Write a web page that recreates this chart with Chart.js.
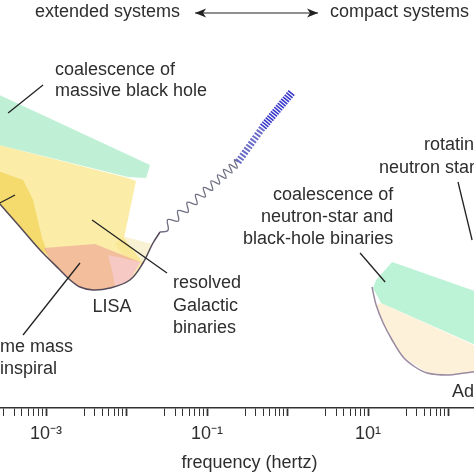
<!DOCTYPE html>
<html>
<head>
<meta charset="utf-8">
<script src="https://cdn.jsdelivr.net/npm/chart.js@4.4.1/dist/chart.umd.min.js"></script>
<style>
  html, body { margin: 0; padding: 0; background: #fff; }
  #wrap { width: 474px; height: 474px; }
</style>
</head>
<body>
<div id="wrap"><canvas id="myChart" width="474" height="474"></canvas></div>
<script>
// frequency in hertz, amplitude in arbitrary (hidden) units
// LISA band
var lisaFreq = [2.54e-4, 4.75e-4, 8.42e-4, 1.49e-3, 1.99e-3, 2.64e-3, 3.83e-3, 6.24e-3, 1.10e-2, 1.60e-2, 2.13e-2, 2.61e-2];
var lisaAmp  = [206, 181, 158, 138, 128, 121, 118, 120, 128, 145, 165, 176];

var mbhFreq = [2.32e-4, 1.96e-2, 1.75e-2, 1.04e-2, 2.32e-4];
var mbhAmp  = [315, 243, 230, 231, 264];

var yellowFreq = [2.32e-4, 1.04e-2, 1.31e-2, 9.31e-3, 1.60e-2, 1.10e-2, 6.24e-3, 3.83e-3, 2.64e-3, 1.99e-3, 1.49e-3, 8.42e-4, 4.75e-4, 2.32e-4];
var yellowAmp  = [264, 230, 227, 170, 145, 128, 120, 118, 121, 128, 138, 158, 181, 209];

var goldFreq = [2.32e-4, 5.18e-4, 6.90e-4, 8.92e-4, 1.06e-3, 8.42e-4, 4.75e-4, 2.32e-4];
var goldAmp  = [238, 228, 208, 170, 153, 158, 181, 209];

var paleFreq = [8.79e-3, 2.07e-2, 1.60e-2, 1.04e-2, 7.20e-3];
var paleAmp  = [172, 164, 145, 148, 163];

var emriFreq = [9.44e-4, 4.06e-3, 1.47e-2, 1.10e-2, 6.24e-3, 3.83e-3, 2.64e-3, 1.99e-3, 1.49e-3, 1.12e-3];
var emriAmp  = [160, 164, 146, 128, 120, 118, 121, 128, 138, 148];

var pinkFreq = [5.89e-3, 1.51e-2, 1.10e-2, 7.20e-3, 6.61e-3];
var pinkAmp  = [153, 146, 128, 121, 138];

// ground-based band
var nsbhFreq = [19.9, 246, 246, 14.5, 11.5, 12.6];
var nsbhAmp  = [146, 115, 61, 105, 120, 128];

var creamFreq = [14.5, 246, 246, 160, 95.8, 54.1, 27.2, 19.9, 15.4, 12.6];
var creamAmp  = [105, 60, 36, 35, 33, 35, 51, 68, 85, 103];

var ligoFreq = [11.2, 12.6, 15.4, 19.9, 27.2, 38.4, 54.1, 95.8, 160, 246];
var ligoAmp  = [121, 103, 85, 68, 51, 41, 35, 33, 35, 37];

// inspiral chirp
var chirpFreq = [2.61e-2, 3.27e-2, 3.25e-2, 4.40e-2, 4.34e-2, 5.81e-2, 5.66e-2, 7.49e-2, 7.22e-2, 9.47e-2, 9.02e-2,
                 0.117, 0.112, 0.143, 0.135, 0.172, 0.160, 0.204, 0.188, 0.237, 0.218, 0.243];
var chirpAmp  = [176, 177.7, 188.4, 187, 197.4, 195.7, 205.7, 203.7, 213.4, 211.1, 220.4,
                 217.8, 227.1, 224.1, 233.1, 229.8, 238.5, 235.1, 243.5, 239.8, 248.1, 246];
var coilFreq1 = [0.243, 0.496];
var coilAmp1  = [246, 281];
var coilFreq2 = [0.496, 1.14];
var coilAmp2  = [281, 316];

// pointer lines [from, to]
var pointerFreq = [[9.18e-4, 3.38e-4], [2.26e-4, 4.12e-4], [2.64e-3, 5.18e-4], [3.73e-3, 3.18e-2], [7.96, 16.3], [131, 196]];
var pointerAmp  = [[323, 295], [202, 213], [145, 73], [188, 135], [155, 126], [226, 168]];

var arrowFreq = [7.1e-2, 2.39];
var arrowAmp  = [395, 395];

// annotations
var noteText  = ['extended systems', 'compact systems', 'coalescence of', 'massive black hole',
                 'resolved', 'Galactic', 'binaries', 'LISA', 'extreme mass', 'ratio inspiral',
                 'coalescence of', 'neutron-star and', 'black-hole binaries', 'rotating', 'neutron stars', 'Advanced LIGO'];
var noteFreq  = [7.3e-4, 3.37, 1.29e-3, 1.29e-3, 3.78e-2, 3.78e-2, 3.78e-2, 6.6e-3, 8.55e-5, 8.55e-5,
                 20.5, 20.5, 20.5, 276, 276, 110];
var noteAmp   = [396, 396, 338, 317, 125, 102, 80, 101, 61, 39, 213, 191, 169, 263, 240, 16];
var noteAlign = ['left', 'left', 'left', 'left', 'left', 'left', 'left', 'center', 'left', 'left',
                 'right', 'right', 'right', 'right', 'right', 'left'];

// tick labels
var labelledExp = [-3, -1, 1];
var labelText = ['10\u207B\u00B3', '10\u207B\u00B9', '10\u00B9'];

var FONT = '"Liberation Sans", Arial, sans-serif';

function pts(fs, as) {
  return fs.map(function (f, i) { return { x: f, y: as[i] }; });
}
function shape(fs, as, color, order) {
  return { data: pts(fs, as), fill: 'shape', backgroundColor: color, borderWidth: 0,
           pointRadius: 0, tension: 0, order: order };
}
function curve(fs, as, color, width, order, tension, dash) {
  return { data: pts(fs, as), fill: false, borderColor: color, borderWidth: width,
           pointRadius: 0, tension: tension, order: order, borderDash: dash || [],
           borderCapStyle: 'butt' };
}

var datasets = [
  shape(paleFreq, paleAmp, 'rgba(248,238,200,0.8)', 21),
  shape(yellowFreq, yellowAmp, 'rgba(249,228,120,0.65)', 20),
  shape(goldFreq, goldAmp, 'rgba(240,205,70,0.6)', 19),
  shape(emriFreq, emriAmp, 'rgba(240,170,150,0.7)', 17),
  shape(pinkFreq, pinkAmp, 'rgba(248,205,215,0.7)', 16),
  shape(mbhFreq, mbhAmp, 'rgba(170,235,200,0.75)', 15),
  shape(creamFreq, creamAmp, 'rgba(252,236,205,0.75)', 14),
  shape(nsbhFreq, nsbhAmp, 'rgba(160,236,196,0.7)', 13),
  curve(lisaFreq, lisaAmp, '#554a58', 1.5, 5, 0.35),
  curve(ligoFreq, ligoAmp, '#9a8aa2', 1.5, 5, 0.35),
  curve(chirpFreq, chirpAmp, '#707084', 1.3, 4, 0.4),
  curve(coilFreq1, coilAmp1, '#6b6bc8', 7, 3, 0, [2, 1.6]),
  curve(coilFreq2, coilAmp2, '#3a3acc', 8, 3, 0, [1.6, 1.1]),
  curve(arrowFreq, arrowAmp, '#222', 1.2, 2, 0)
];
pointerFreq.forEach(function (fs, i) {
  datasets.push(curve(fs, pointerAmp[i], '#222', 1.3, 2, 0));
});

var notesPlugin = {
  id: 'notes',
  afterDatasetsDraw: function (chart) {
    var ctx = chart.ctx, x = chart.scales.x, y = chart.scales.y;
    ctx.save();
    ctx.font = '18px ' + FONT;
    ctx.fillStyle = '#2e2e2e';
    ctx.textBaseline = 'middle';
    noteText.forEach(function (t, i) {
      ctx.textAlign = noteAlign[i];
      ctx.fillText(t, x.getPixelForValue(noteFreq[i]), y.getPixelForValue(noteAmp[i]));
    });
    // arrow heads
    var x0 = x.getPixelForValue(arrowFreq[0]), x1 = x.getPixelForValue(arrowFreq[1]);
    var ya = y.getPixelForValue(arrowAmp[0]);
    ctx.fillStyle = '#222';
    ctx.beginPath();
    ctx.moveTo(x0, ya); ctx.lineTo(x0 + 11, ya - 4.5); ctx.lineTo(x0 + 8, ya); ctx.lineTo(x0 + 11, ya + 4.5);
    ctx.closePath(); ctx.fill();
    ctx.beginPath();
    ctx.moveTo(x1, ya); ctx.lineTo(x1 - 11, ya - 4.5); ctx.lineTo(x1 - 8, ya); ctx.lineTo(x1 - 11, ya + 4.5);
    ctx.closePath(); ctx.fill();
    ctx.restore();
  }
};

function tickShown(v) {
  var e = Math.floor(Math.log10(v) + 1e-9);
  var s = Math.round(v / Math.pow(10, e) * 1000) / 1000;
  return s === 1 || (s >= 3 && s <= 9 && s === Math.round(s));
}
function isDecade(v) {
  var e = Math.log10(v);
  return Math.abs(e - Math.round(e)) < 1e-9;
}

var ctx = document.getElementById('myChart');
var myChart = new Chart(ctx, {
  type: 'line',
  data: { datasets: datasets },
  plugins: [notesPlugin],
  options: {
    responsive: false,
    animation: false,
    devicePixelRatio: 1,
    layout: { padding: 0 },
    plugins: { legend: { display: false }, tooltip: { enabled: false } },
    scales: {
      x: {
        type: 'logarithmic',
        min: 2.68e-4,
        max: 207,
        afterFit: function (s) { s.height = 66; s.paddingLeft = 0; s.paddingRight = 0; },
        border: { display: true, color: '#333', width: 1.5 },
        grid: {
          drawOnChartArea: false,
          drawTicks: true,
          tickLength: 8,
          tickColor: function (c) { return c.tick && tickShown(c.tick.value) ? '#333' : 'rgba(0,0,0,0)'; },
          tickWidth: function (c) { return c.tick && isDecade(c.tick.value) ? 1.8 : 1; }
        },
        ticks: {
          autoSkip: false,
          maxRotation: 0,
          padding: 7,
          color: '#2e2e2e',
          font: { size: 18, family: FONT },
          callback: function (v) {
            var e = Math.log10(v);
            var k = labelledExp.findIndex(function (p) { return Math.abs(p - e) < 1e-9; });
            return k >= 0 ? labelText[k] : '';
          }
        },
        title: {
          display: true,
          text: '     frequency (hertz)',
          color: '#2e2e2e',
          font: { size: 18, family: FONT },
          padding: { top: 0, bottom: 0 }
        }
      },
      y: { type: 'linear', display: false, min: 0, max: 408 }
    }
  }
});
</script>
</body>
</html>
